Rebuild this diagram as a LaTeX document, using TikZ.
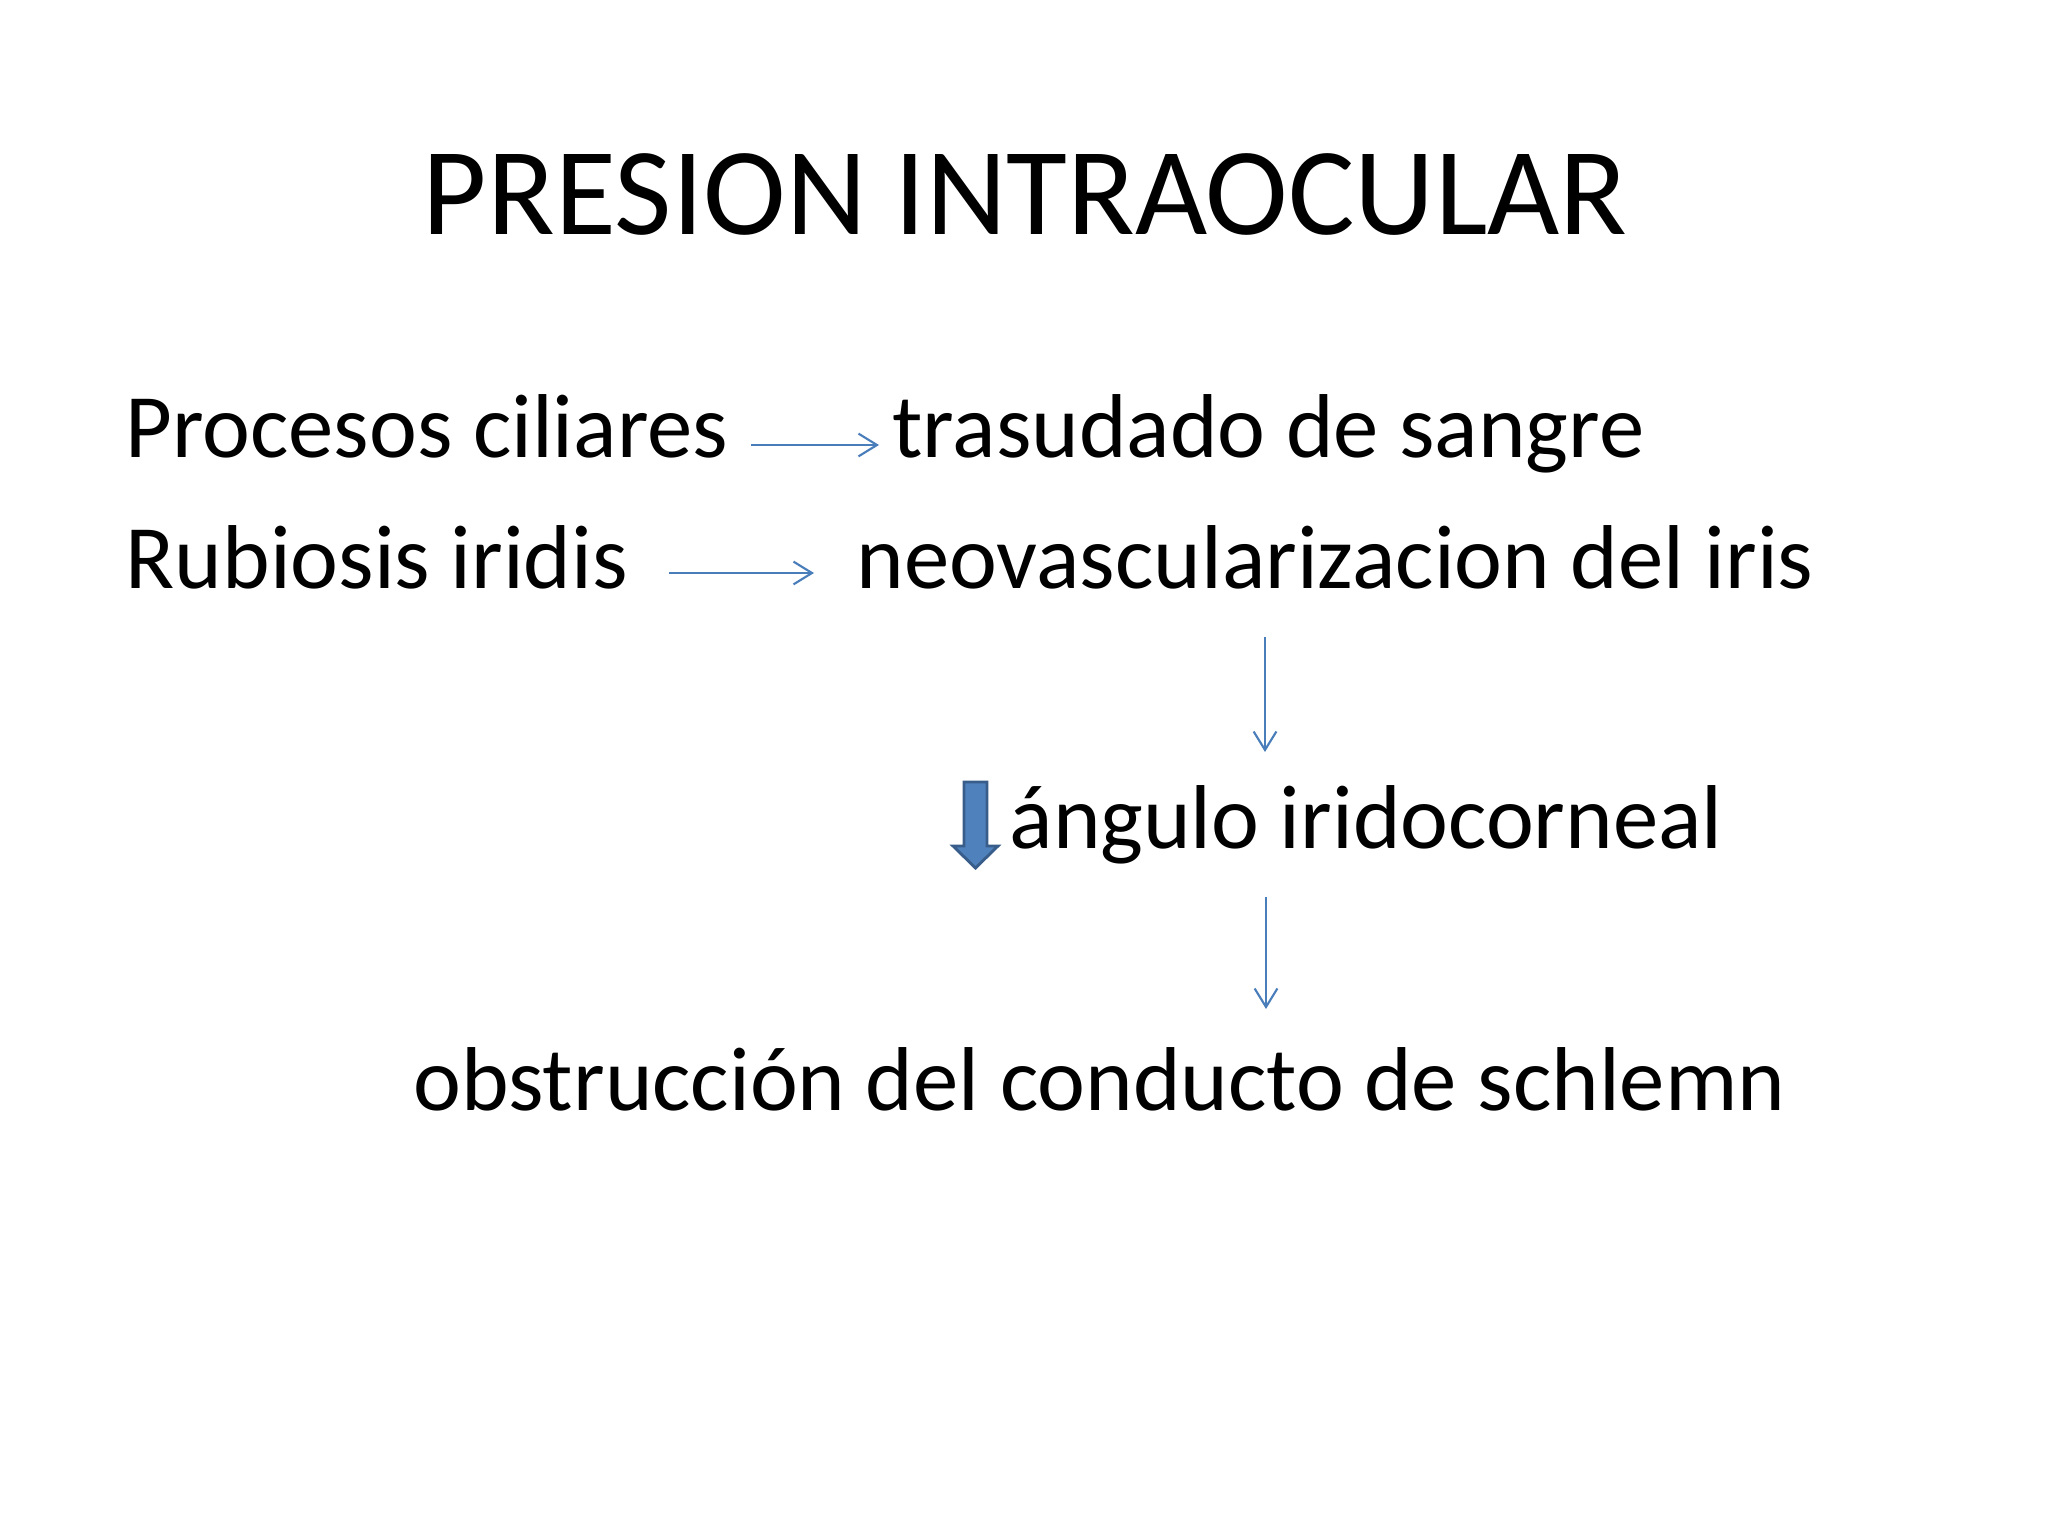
\documentclass[tikz,border=0pt]{standalone}
\usepackage{fontspec}
\setmainfont{Carlito}
\usetikzlibrary{arrows.meta}
\definecolor{lineblue}{HTML}{4A7EBB}
\definecolor{fillblue}{HTML}{4F81BD}
\definecolor{edgeblue}{HTML}{385D8A}
\tikzset{
  body/.style={anchor=base west, inner sep=0pt, font=\fontsize{32}{38}\selectfont},
  titletext/.style={anchor=base, inner sep=0pt, font=\fontsize{44}{52}\selectfont},
  thinarrow/.style={draw=lineblue, line width=0.75pt, -{Straight Barb[length=6.5bp, width=8bp, line width=0.75pt]}},
  blockarrow/.style={fill=fillblue, draw=edgeblue, line width=1pt, line join=miter}
}
\begin{document}
\begin{tikzpicture}[x=0.3515625bp, y=-0.3515625bp]
\useasboundingbox[fill=white] (0,0) rectangle (2048,1536);

\node[titletext] (title) at (1025,235) {PRESION INTRAOCULAR};

\node[body] (proc) at (125,457) {Procesos ciliares};
\node[body] (tras) at (892,457) {trasudado de sangre};
\node[body] (rub) at (125,588) {Rubiosis iridis};
\node[body] (neo) at (856,588) {neovascularizacion del iris};
\node[body] (ang) at (1009,848) {ángulo iridocorneal};
\node[body] (obs) at (413,1110) {obstrucción del conducto de schlemn};

\coordinate (a1s) at (751,445);
\coordinate (a1e) at (879,445);
\coordinate (a2s) at (669,573);
\coordinate (a2e) at (814,573);
\coordinate (a3s) at (1265,637);
\coordinate (a3e) at (1265,752);
\coordinate (a4s) at (1266,897);
\coordinate (a4e) at (1266,1009);

\draw[thinarrow] (a1s) -- (a1e);
\draw[thinarrow] (a2s) -- (a2e);
\draw[thinarrow] (a3s) -- (a3e);
\draw[thinarrow] (a4s) -- (a4e);

\draw[blockarrow] (964,782) -- (987,782) -- (987,846) -- (998,846) -- (975.5,868) -- (953,846) -- (964,846) -- cycle;
\end{tikzpicture}
\end{document}
